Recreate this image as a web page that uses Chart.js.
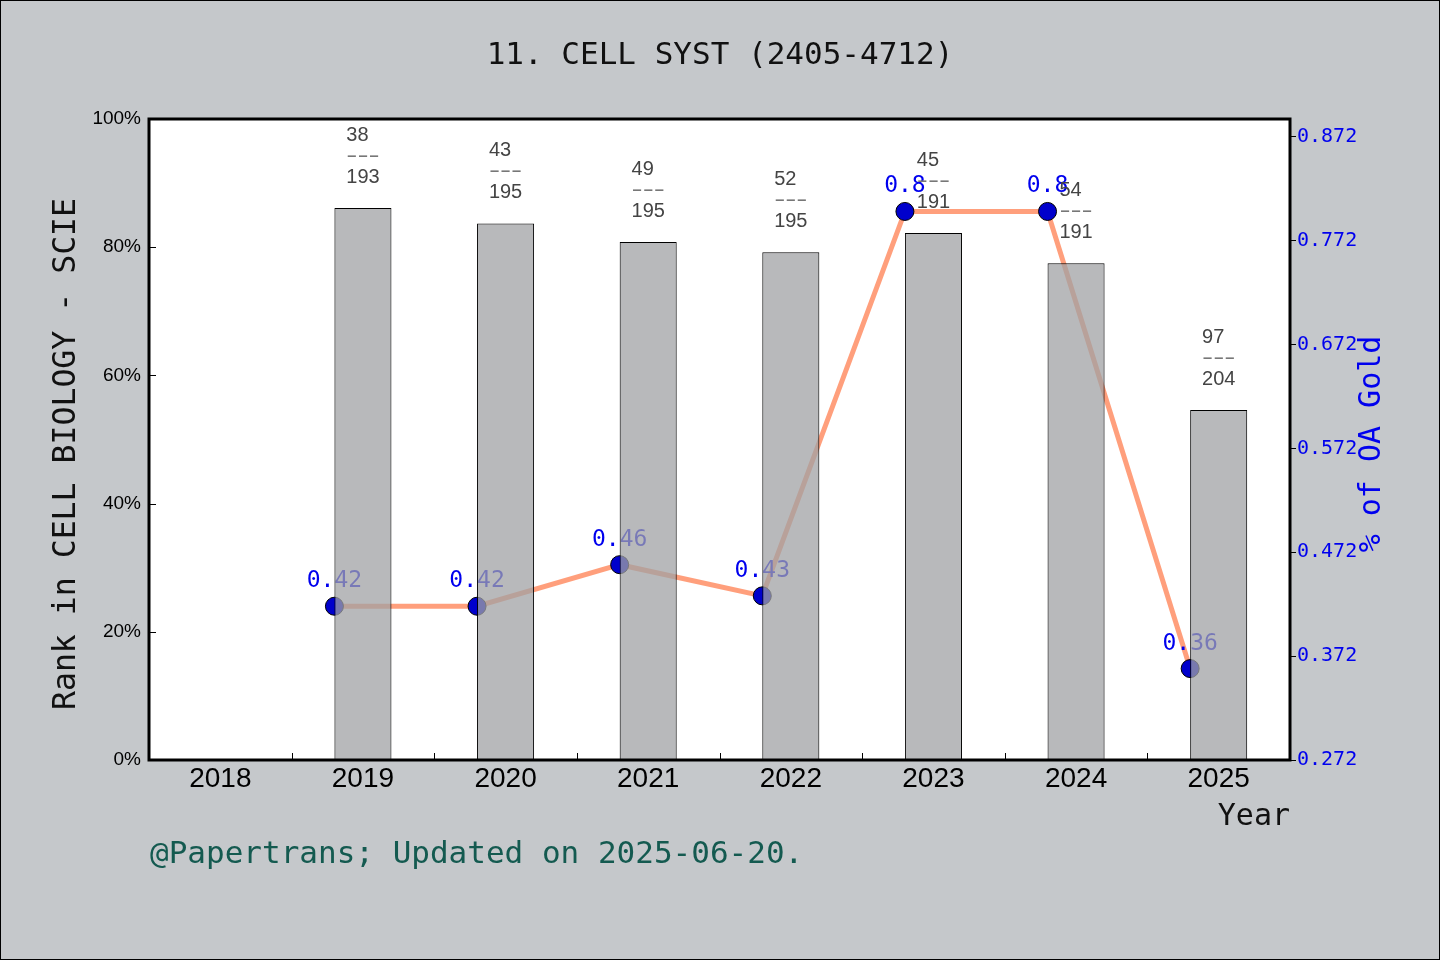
<!DOCTYPE html>
<html lang="en">
<head>
    <meta charset="UTF-8">
    <title>11. CELL SYST (2405-4712)</title>
    <script src="https://cdn.jsdelivr.net/npm/chart.js"></script>
    <style>
        body {
            margin: 0;
            background: #c5c8cb;
        }
        canvas {
            display: block;
        }
    </style>
</head>
<body>
    <canvas id="rankChart" width="1440" height="960"></canvas>

    <script>
        // data
        const years = ['2018', '2019', '2020', '2021', '2022', '2023', '2024', '2025'];
        const rankPct = [null, 86.1, 83.7, 80.8, 79.2, 82.2, 77.5, 54.6];
        const oaGold = [null, 0.42, 0.42, 0.46, 0.43, 0.8, 0.8, 0.36];
        const rankNum = [null, 38, 43, 49, 52, 45, 54, 97];
        const catTotal = [null, 193, 195, 195, 195, 191, 191, 204];
        const leftTicks = [0, 20, 40, 60, 80, 100];
        const rightTicks = [0.272, 0.372, 0.472, 0.572, 0.672, 0.772, 0.872];

        const mono = '"DejaVu Sans Mono", monospace';
        const sans = '"Liberation Sans", Arial, sans-serif';
        const lineShift = 0.2; // points sit on the left edge of the bars

        const linePoints = [];
        oaGold.forEach((v, i) => {
            if (v !== null) linePoints.push({ x: i - lineShift, y: v });
        });

        const deco = {
            id: 'deco',
            beforeDraw(chart) {
                const ctx = chart.ctx;
                const a = chart.chartArea;
                ctx.save();
                ctx.fillStyle = '#c5c8cb';
                ctx.fillRect(0, 0, chart.width, chart.height);
                ctx.strokeStyle = '#000';
                ctx.lineWidth = 1;
                ctx.strokeRect(0.5, 0.5, chart.width - 1, chart.height - 1);
                ctx.fillStyle = '#fff';
                ctx.fillRect(a.left, a.top, a.right - a.left, a.bottom - a.top);
                ctx.restore();
            },
            afterDatasetDraw(chart, args) {
                // value labels of the line go under the bars
                if (args.index !== 1) return;
                const ctx = chart.ctx;
                const pts = chart.data.datasets[1].data;
                ctx.save();
                ctx.font = '23px ' + mono;
                ctx.fillStyle = '#0000ee';
                ctx.textAlign = 'center';
                ctx.textBaseline = 'middle';
                args.meta.data.forEach((el, j) => {
                    ctx.fillText(String(pts[j].y), el.x, el.y - 25);
                });
                ctx.restore();
            },
            afterDatasetsDraw(chart) {
                const ctx = chart.ctx;
                const a = chart.chartArea;
                const meta = chart.getDatasetMeta(0);
                ctx.save();
                // rank / total above bars
                ctx.textAlign = 'left';
                ctx.textBaseline = 'middle';
                meta.data.forEach((bar, i) => {
                    if (rankNum[i] === null) return;
                    const top = String(rankNum[i]);
                    const bottom = String(catTotal[i]);
                    ctx.font = '20px ' + sans;
                    const maxW = Math.max(ctx.measureText(top).width, ctx.measureText(bottom).width);
                    const left = bar.x - maxW / 2;
                    ctx.fillStyle = '#444';
                    ctx.fillText(top, left, bar.y - 73);
                    ctx.fillText(bottom, left, bar.y - 31);
                    // stretched dashes between the two numbers
                    const dw = ctx.measureText('---').width;
                    ctx.save();
                    ctx.translate(left, bar.y - 52);
                    ctx.scale(maxW / dw, 1);
                    ctx.fillStyle = '#777';
                    ctx.fillText('---', 0, 0);
                    ctx.restore();
                });

                // inner tick marks
                ctx.strokeStyle = '#000';
                ctx.lineWidth = 1;
                ctx.beginPath();
                leftTicks.forEach(v => {
                    const y = Math.round(chart.scales.y.getPixelForValue(v)) + 0.5;
                    ctx.moveTo(a.left, y);
                    ctx.lineTo(a.left + 7, y);
                });
                for (let i = 1; i < years.length; i++) {
                    const x = Math.round(chart.scales.x2.getPixelForValue(i - 0.5)) + 0.5;
                    ctx.moveTo(x, a.bottom);
                    ctx.lineTo(x, a.bottom - 7);
                }
                ctx.stroke();

                // plot frame
                ctx.lineWidth = 3;
                ctx.strokeRect(a.left, a.top, a.right - a.left, a.bottom - a.top);
                ctx.restore();
            },
            afterDraw(chart) {
                const ctx = chart.ctx;
                ctx.save();
                ctx.textBaseline = 'middle';

                ctx.fillStyle = '#111';
                ctx.textAlign = 'center';
                ctx.font = '31px ' + mono;
                ctx.fillText('11. CELL SYST (2405-4712)', 720, 56);

                ctx.save();
                ctx.translate(67, 454);
                ctx.rotate(-Math.PI / 2);
                ctx.font = '31.5px ' + mono;
                ctx.fillText('Rank in CELL BIOLOGY - SCIE', 0, 0);
                ctx.restore();

                ctx.save();
                ctx.translate(1372, 444);
                ctx.rotate(-Math.PI / 2);
                ctx.fillStyle = '#0000ee';
                ctx.font = '30px ' + mono;
                ctx.fillText('% of OA Gold', 0, 0);
                ctx.restore();

                ctx.textAlign = 'right';
                ctx.font = '30px ' + mono;
                ctx.fillText('Year', 1290, 817);

                ctx.textAlign = 'left';
                ctx.fillStyle = '#145a50';
                ctx.font = '31px ' + mono;
                ctx.fillText('@Papertrans; Updated on 2025-06-20.', 150, 855);
                ctx.restore();
            }
        };

        const ctx = document.getElementById('rankChart').getContext('2d');
        new Chart(ctx, {
            type: 'bar',
            data: {
                labels: years,
                datasets: [{
                    type: 'bar',
                    data: rankPct,
                    xAxisID: 'x',
                    yAxisID: 'y',
                    backgroundColor: 'rgba(160,161,164,0.75)',
                    borderColor: '#000',
                    borderWidth: 1,
                    borderSkipped: false,
                    grouped: false,
                    barPercentage: 0.4,
                    categoryPercentage: 1.0,
                    order: 0
                }, {
                    type: 'line',
                    data: linePoints,
                    xAxisID: 'x2',
                    yAxisID: 'y2',
                    borderColor: 'rgba(255,127,80,0.75)',
                    borderWidth: 5,
                    tension: 0,
                    pointRadius: 9,
                    pointBackgroundColor: '#0000cc',
                    pointBorderColor: '#000',
                    pointBorderWidth: 1,
                    order: 1
                }]
            },
            options: {
                responsive: false,
                animation: false,
                layout: { padding: { top: 119, left: 0, right: 0, bottom: 0 } },
                plugins: {
                    legend: { display: false },
                    tooltip: { enabled: false }
                },
                scales: {
                    x: {
                        type: 'category',
                        offset: true,
                        grid: { display: false },
                        border: { display: false },
                        ticks: {
                            color: '#000',
                            font: { family: sans, size: 28 },
                            padding: -6,
                            maxRotation: 0
                        },
                        afterFit(s) { s.height = 200; }
                    },
                    x2: {
                        type: 'linear',
                        min: -0.5,
                        max: years.length - 0.5,
                        offset: false,
                        grid: { offset: false },
                        display: false
                    },
                    y: {
                        position: 'left',
                        min: 0,
                        max: 100,
                        grid: { display: false },
                        border: { display: false },
                        ticks: {
                            stepSize: 20,
                            color: '#000',
                            font: { family: sans, size: 19 },
                            padding: 0,
                            callback: v => v + '%'
                        },
                        afterFit(s) { s.width = 149; }
                    },
                    y2: {
                        position: 'right',
                        min: 0.272,
                        max: 0.889,
                        grid: {
                            display: true,
                            drawOnChartArea: false,
                            drawTicks: true,
                            tickLength: 6,
                            color: '#000'
                        },
                        border: { display: false },
                        afterBuildTicks(s) {
                            s.ticks = rightTicks.map(v => ({ value: v }));
                        },
                        ticks: {
                            color: '#0000ee',
                            font: { family: mono, size: 20 },
                            padding: 1,
                            callback: v => v.toFixed(3)
                        },
                        afterFit(s) { s.width = 150; }
                    }
                }
            },
            plugins: [deco]
        });
    </script>
</body>
</html>
